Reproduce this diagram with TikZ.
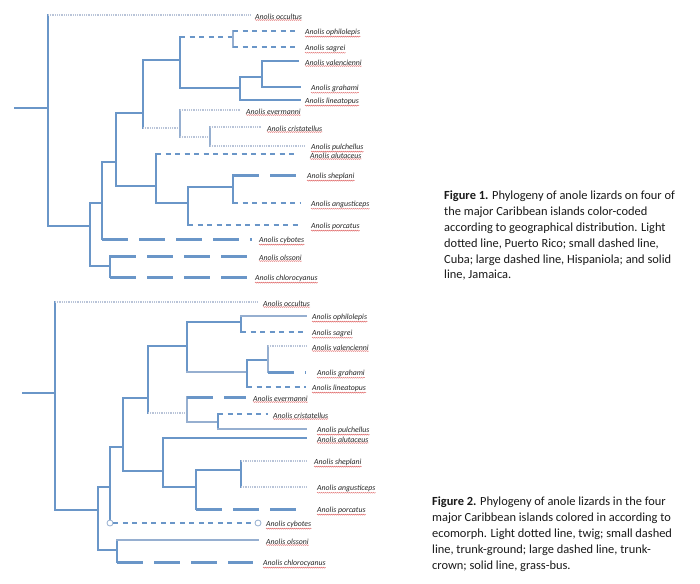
\documentclass[tikz,border=0pt]{standalone}
\usepackage{fontspec}
\setmainfont{Carlito}
\usetikzlibrary{decorations.pathmorphing}
\definecolor{tb}{RGB}{106,150,200}
\definecolor{tbl}{RGB}{150,175,208}
\definecolor{tdot}{RGB}{185,196,216}
\definecolor{sq}{RGB}{225,110,110}
\tikzset{
 sol/.style={draw=tb, line width=1.5pt, line cap=rect},
 soll/.style={draw=tbl, line width=1.3pt, line cap=rect},
 sdash/.style={draw=tb, line width=1.7pt, dash pattern=on 5pt off 4.5pt},
 ldash/.style={draw=tb, line width=3pt, dash pattern=on 26pt off 11pt},
 dotl/.style={draw=tdot, line width=1.6pt, dash pattern=on 0.7pt off 1.1pt},
 lab/.style={anchor=west, inner sep=0pt, font=\fontsize{7.8}{9}\selectfont\itshape, text=black!85},
 squig/.style={draw=sq, line width=0.4pt, decorate, decoration={snake, amplitude=0.5pt, segment length=2pt}},
 captext/.style={anchor=north west, align=left, inner sep=0pt, font=\fontsize{12.4}{15.8}\selectfont, text=black!90},
 circ/.style={circle, draw=tbl, fill=white, line width=0.8pt, inner sep=0pt, minimum size=6pt}
}
\newcommand{\mkleaf}[5]{%
 \coordinate (#1-e) at (#2,#3);
 \node[lab] (#1) at (#4,#3+1.5) {Anolis #5};
 \draw[squig] ([yshift=-0.6pt]#1.south west) -- ([yshift=-0.6pt]#1.south east);
}
\begin{document}
\begin{tikzpicture}[x=1pt,y=-1pt]
\useasboundingbox[fill=white] (0,0) rectangle (700,583);
% ---------------- Figure 1 ----------------
\coordinate (A0) at (15,108);
\coordinate (AR) at (48,108);
\coordinate (A90) at (90,226);
\coordinate (A110) at (110,266);
\coordinate (A102) at (102,203);
\coordinate (A116) at (116,162);
\coordinate (A143) at (143,113);
\coordinate (A180) at (180,60);
\coordinate (A233) at (233,37);
\coordinate (A240) at (240,88);
\coordinate (A262) at (262,77);
\coordinate (A180b) at (180,128);
\coordinate (A210) at (210,137);
\coordinate (A156) at (156,186);
\coordinate (A188) at (188,203);
\coordinate (A233b) at (233,187);
\mkleaf{Aocc}{250}{15}{255}{occultus}
\mkleaf{Aoph}{298}{31}{305}{ophilolepis}
\mkleaf{Asag}{298}{47}{305}{sagrei}
\mkleaf{Aval}{298}{61}{305}{valencienni}
\mkleaf{Agra}{300}{87}{311}{grahami}
\mkleaf{Alin}{300}{100}{305}{lineatopus}
\mkleaf{Aeve}{240}{110}{246}{evermanni}
\mkleaf{Acri}{262}{127}{267}{cristatellus}
\mkleaf{Apul}{305}{146}{311}{pulchellus}
\mkleaf{Aalu}{298}{154}{310}{alutaceus}
\mkleaf{Ashe}{298}{175}{307}{sheplani}
\mkleaf{Aang}{300}{203}{311}{angusticeps}
\mkleaf{Apor}{300}{225}{311}{porcatus}
\mkleaf{Acyb}{252}{239}{259}{cybotes}
\mkleaf{Aols}{247}{256}{259}{olssoni}
\mkleaf{Achl}{247}{277}{255}{chlorocyanus}
\draw[sol] (A0) -- (AR);
\draw[sol] (AR |- Aocc-e) -- (AR |- A90);
\draw[dotl] (AR |- Aocc-e) -- (Aocc-e);
\draw[sol] (AR |- A90) -- (A90);
\draw[sol] (A90 |- A102) -- (A90 |- A110);
\draw[sol] (A90 |- A102) -- (A102);
\draw[sol] (A90 |- A110) -- (A110);
\draw[sol] (A110 |- Aols-e) -- (A110 |- Achl-e);
\draw[ldash] (A110 |- Aols-e) -- (Aols-e);
\draw[ldash] (A110 |- Achl-e) -- (Achl-e);
\draw[sol] (A102 |- A116) -- (A102 |- Acyb-e);
\draw[sol] (A102 |- A116) -- (A116);
\draw[ldash] (A102 |- Acyb-e) -- (Acyb-e);
\draw[sol] (A116 |- A143) -- (A116 |- A156);
\draw[sol] (A116 |- A143) -- (A143);
\draw[sol] (A116 |- A156) -- (A156);
\draw[sol] (A143 |- A180) -- (A143 |- A180b);
\draw[sol] (A143 |- A180) -- (A180);
\draw[dotl] (A143 |- A180b) -- (A180b);
\draw[sol] (A180 |- A233) -- (A180 |- A240);
\draw[sdash] (A180 |- A233) -- (A233);
\draw[sol] (A180 |- A240) -- (A240);
\draw[soll] (A233 |- Aoph-e) -- (A233 |- Asag-e);
\draw[sdash] (A233 |- Aoph-e) -- (Aoph-e);
\draw[sdash] (A233 |- Asag-e) -- (Asag-e);
\draw[sol] (A240 |- A262) -- (A240 |- Alin-e);
\draw[sol] (A240 |- A262) -- (A262);
\draw[sol] (A240 |- Alin-e) -- (Alin-e);
\draw[sol] (A262 |- Aval-e) -- (A262 |- Agra-e);
\draw[sol] (A262 |- Aval-e) -- (Aval-e);
\draw[sol] (A262 |- Agra-e) -- (Agra-e);
\draw[soll] (A180b |- Aeve-e) -- (A180b |- A210);
\draw[dotl] (A180b |- Aeve-e) -- (Aeve-e);
\draw[dotl] (A180b |- A210) -- (A210);
\draw[soll] (A210 |- Acri-e) -- (A210 |- Apul-e);
\draw[dotl] (A210 |- Acri-e) -- (Acri-e);
\draw[dotl] (A210 |- Apul-e) -- (Apul-e);
\draw[sol] (A156 |- Aalu-e) -- (A156 |- A188);
\draw[sdash] (A156 |- Aalu-e) -- (Aalu-e);
\draw[sol] (A156 |- A188) -- (A188);
\draw[sol] (A188 |- A233b) -- (A188 |- Apor-e);
\draw[sol] (A188 |- A233b) -- (A233b);
\draw[sdash] (A188 |- Apor-e) -- (Apor-e);
\draw[sol] (A233b |- Ashe-e) -- (A233b |- Aang-e);
\draw[ldash] (A233b |- Ashe-e) -- (Ashe-e);
\draw[sdash] (A233b |- Aang-e) -- (Aang-e);
% ---------------- Figure 2 ----------------
\coordinate (B0) at (23,393);
\coordinate (BR) at (55,393);
\coordinate (B98) at (98,510);
\coordinate (B117) at (117,550);
\coordinate (B110) at (110,487);
\coordinate (B123) at (123,447);
\coordinate (B148) at (148,398);
\coordinate (B187) at (187,346);
\coordinate (B241) at (241,322);
\coordinate (B247) at (247,372);
\coordinate (B268) at (268,360);
\coordinate (B187b) at (187,413);
\coordinate (B218) at (218,422);
\coordinate (B163) at (163,471);
\coordinate (B196) at (196,487);
\coordinate (B241b) at (241,470);
\mkleaf{Bocc}{258}{302}{263}{occultus}
\mkleaf{Boph}{306}{316}{312}{ophilolepis}
\mkleaf{Bsag}{306}{332}{312}{sagrei}
\mkleaf{Bval}{306}{346}{312}{valencienni}
\mkleaf{Bgra}{306}{372}{317}{grahami}
\mkleaf{Blin}{306}{387}{312}{lineatopus}
\mkleaf{Beve}{246}{397}{253}{evermanni}
\mkleaf{Bcri}{268}{414}{273}{cristatellus}
\mkleaf{Bpul}{306}{429}{317}{pulchellus}
\mkleaf{Balu}{306}{438}{317}{alutaceus}
\mkleaf{Bshe}{306}{461}{314}{sheplani}
\mkleaf{Bang}{306}{487}{317}{angusticeps}
\mkleaf{Bpor}{296}{509}{317}{porcatus}
\mkleaf{Bcyb}{258}{523}{266}{cybotes}
\mkleaf{Bols}{258}{540}{266}{olssoni}
\mkleaf{Bchl}{253}{562}{263}{chlorocyanus}
\draw[sol] (B0) -- (BR);
\draw[sol] (BR |- Bocc-e) -- (BR |- B98);
\draw[dotl] (BR |- Bocc-e) -- (Bocc-e);
\draw[sol] (BR |- B98) -- (B98);
\draw[sol] (B98 |- B110) -- (B98 |- B117);
\draw[sol] (B98 |- B110) -- (B110);
\draw[sol] (B98 |- B117) -- (B117);
\draw[sol] (B117 |- Bols-e) -- (B117 |- Bchl-e);
\draw[soll] (B117 |- Bols-e) -- (Bols-e);
\draw[ldash] (B117 |- Bchl-e) -- (Bchl-e);
\draw[sol] (B110 |- B123) -- (B110 |- Bcyb-e);
\draw[sol] (B110 |- B123) -- (B123);
\node[circ] (Bcyb-c1) at (B110 |- Bcyb-e) {};
\node[circ] (Bcyb-c2) at (Bcyb-e) {};
\draw[sdash] (Bcyb-c1) -- (Bcyb-c2);
\draw[sol] (B123 |- B148) -- (B123 |- B163);
\draw[sol] (B123 |- B148) -- (B148);
\draw[sol] (B123 |- B163) -- (B163);
\draw[sol] (B148 |- B187) -- (B148 |- B187b);
\draw[sol] (B148 |- B187) -- (B187);
\draw[dotl] (B148 |- B187b) -- (B187b);
\draw[sol] (B187 |- B241) -- (B187 |- B247);
\draw[sol] (B187 |- B241) -- (B241);
\draw[soll] (B187 |- B247) -- (B247);
\draw[sol] (B241 |- Boph-e) -- (B241 |- Bsag-e);
\draw[soll] (B241 |- Boph-e) -- (Boph-e);
\draw[sdash] (B241 |- Bsag-e) -- (Bsag-e);
\draw[sol] (B247 |- B268) -- (B247 |- Blin-e);
\draw[sol] (B247 |- B268) -- (B268);
\draw[sdash] (B247 |- Blin-e) -- (Blin-e);
\draw[soll] (B268 |- Bval-e) -- (B268 |- Bgra-e);
\draw[dotl] (B268 |- Bval-e) -- (Bval-e);
\draw[ldash] (B268 |- Bgra-e) -- (Bgra-e);
\draw[soll] (B187b |- Beve-e) -- (B187b |- B218);
\draw[ldash] (B187b |- Beve-e) -- (Beve-e);
\draw[soll] (B187b |- B218) -- (B218);
\draw[sol] (B218 |- Bcri-e) -- (B218 |- Bpul-e);
\draw[sdash] (B218 |- Bcri-e) -- (Bcri-e);
\draw[soll] (B218 |- Bpul-e) -- (Bpul-e);
\draw[sol] (B163 |- Balu-e) -- (B163 |- B196);
\draw[sol] (B163 |- Balu-e) -- (Balu-e);
\draw[sol] (B163 |- B196) -- (B196);
\draw[sol] (B196 |- B241b) -- (B196 |- Bpor-e);
\draw[sol] (B196 |- B241b) -- (B241b);
\draw[ldash] (B196 |- Bpor-e) -- (Bpor-e);
\draw[sol] (B241b |- Bshe-e) -- (B241b |- Bang-e);
\draw[dotl] (B241b |- Bshe-e) -- (Bshe-e);
\draw[dotl] (B241b |- Bang-e) -- (Bang-e);
% ---------------- Captions ----------------
\node[captext] (cap1) at (444,191) {\textbf{Figure 1.} Phylogeny of anole lizards on four of\\the major Caribbean islands color-coded\\according to geographical distribution. Light\\dotted line, Puerto Rico; small dashed line,\\Cuba; large dashed line, Hispaniola; and solid\\line, Jamaica.};
\node[captext] (cap2) at (432,497) {\textbf{Figure 2.} Phylogeny of anole lizards in the four\\major Caribbean islands colored in according to\\ecomorph. Light dotted line, twig; small dashed\\line, trunk-ground; large dashed line, trunk-\\crown; solid line, grass-bus.};
\end{tikzpicture}
\end{document}
